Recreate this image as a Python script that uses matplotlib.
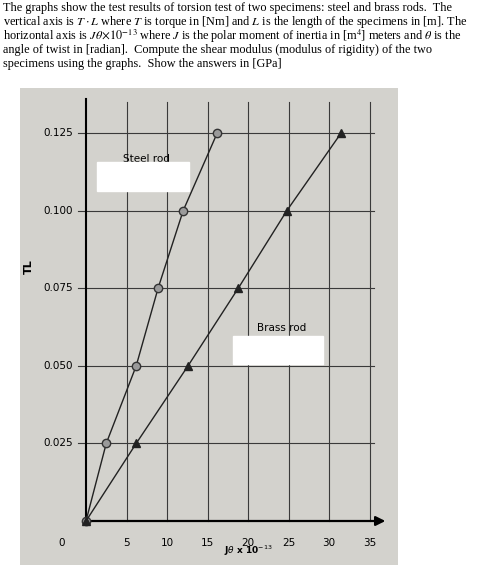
import matplotlib
matplotlib.use("Agg")
import matplotlib.pyplot as plt
from matplotlib.patches import Rectangle

steel_x = [0, 2.5, 6.2, 8.9, 12.0, 16.2]
steel_y = [0, 0.025, 0.05, 0.075, 0.1, 0.125]
brass_x = [0, 6.2, 12.6, 18.8, 24.8, 31.5]
brass_y = [0, 0.025, 0.05, 0.075, 0.1, 0.125]
xticks = [5, 10, 15, 20, 25, 30, 35]
yticks = [0.025, 0.05, 0.075, 0.1, 0.125]
ytick_labels = ["0.025", "0.050", "0.075", "0.100", "0.125"]

W, H = 478, 566
fig = plt.figure(figsize=(W/100, H/100), dpi=100)
fig.patch.set_facecolor("white")

lines = ["The graphs show the test results of torsion test of two specimens: steel and brass rods.  The",
         "vertical axis is $T\\cdot L$ where $T$ is torque in [Nm] and $L$ is the length of the specimens in [m]. The",
         "horizontal axis is $J\\theta\\!\\times\\!10^{-13}$ where $J$ is the polar moment of inertia in [m$^4$] meters and $\\theta$ is the",
         "angle of twist in [radian].  Compute the shear modulus (modulus of rigidity) of the two",
         "specimens using the graphs.  Show the answers in [GPa]"]
for i, ln in enumerate(lines):
    fig.text(3/W, 1-(8+14*i)/H, ln, ha="left", va="center", fontsize=8.8,
             family="Liberation Serif", math_fontfamily="stix")

l, r, t, b = 20, 398, 88, 565
ax = fig.add_axes([l/W, 1-b/H, (r-l)/W, (b-t)/H])
ax.set_facecolor("#d3d2cd")
x0 = (l-86)/8.1; x1 = (r-86)/8.1
y1 = (521-t)/3104; y0 = (521-b)/3104
ax.set_xlim(x0, x1); ax.set_ylim(y0, y1)
for s in ax.spines.values():
    s.set_visible(False)
ax.set_xticks([]); ax.set_yticks([])

gc = "#3a3a3a"
for xv in xticks:
    ax.plot([xv, xv], [0, 0.135], color=gc, lw=0.8)
    ax.text(xv, -0.0055, str(xv), ha="center", va="top", fontsize=7.5)
for yv, lab in zip(yticks, ytick_labels):
    ax.plot([-1, 35.5], [yv, yv], color=gc, lw=0.8)
    ax.text(-1.6, yv, lab, ha="right", va="center", fontsize=7.5)
ax.text(-3.0, -0.0055, "0", ha="center", va="top", fontsize=7.5)
ax.annotate("", xy=(37.3, 0), xytext=(0, 0),
            arrowprops=dict(arrowstyle="-|>", color="black", lw=1.6, mutation_scale=14))
ax.plot([0, 0], [0, 0.136], color="black", lw=1.5)
ax.text(20, -0.0097, r"J$\theta$ x 10$^{-13}$", ha="center", va="center", fontsize=6.5, fontweight="bold")
ax.text(-7, 0.082, "TL", rotation=90, ha="center", va="center", fontsize=8, fontweight="bold")

ax.plot(steel_x, steel_y, color="#222222", lw=1.0, marker="o", ms=6,
        mfc="#9a9a9a", mec="#333333", zorder=3)
ax.plot(brass_x, brass_y, color="#222222", lw=1.0, marker="^", ms=6,
        mfc="#222222", mec="#222222", zorder=3)

ax.text(7.5, 0.1165, "Steel rod", fontsize=7.5, ha="center", va="center")
ax.text(24.2, 0.0623, "Brass rod", fontsize=7.5, ha="center", va="center")

for (px0, py0, px1, py1) in [(97, 162, 189, 191), (233, 336, 323, 364)]:
    fig.patches.append(Rectangle((px0/W, 1-py1/H), (px1-px0)/W, (py1-py0)/H,
                                 transform=fig.transFigure, color="white", zorder=10))

fig.savefig("out.png", dpi=100)
